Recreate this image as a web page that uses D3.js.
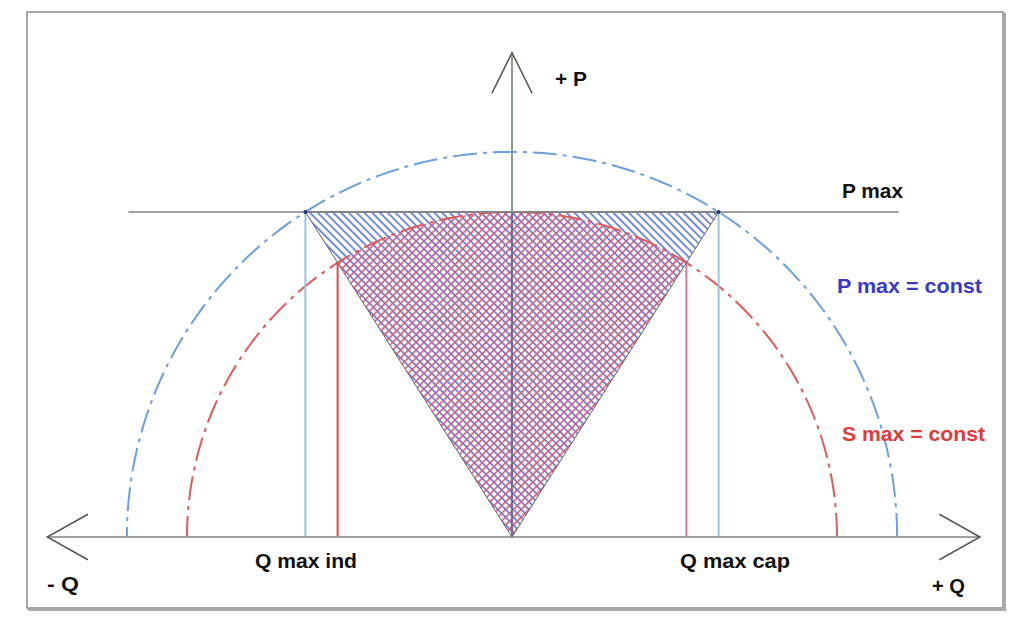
<!DOCTYPE html>
<html lang="en">

<head>
    <meta charset="UTF-8">
    <title>PQ capability diagram</title>
    <script src="https://d3js.org/d3.v7.min.js"></script>
    <style>
        body {
            margin: 0;
            background: #fff;
        }

        text {
            font-family: "Liberation Sans", Arial, sans-serif;
            font-weight: bold;
            font-size: 21px;
        }
    </style>
</head>

<body>
    <script>
        // values in per-unit of S max
        const circleNames = ["S max", "P max"];
        const circleRadii = [1.0, 1.185];
        const pMaxLevel = [1.0];
        const qAxisRange = [-1.43, 1.44];
        const pAxisRange = [0, 1.49];
        const pMaxLineRange = [-1.18, 1.19];

        const width = 1024;
        const height = 624;
        const unit = 325; // px per p.u.
        const cx = 512, cy = 537;

        const x = d3.scaleLinear().domain([0, 1]).range([cx, cx + unit]);
        const y = d3.scaleLinear().domain([0, 1]).range([cy, cy - unit]);

        const svg = d3.select("body")
            .append("svg")
            .attr("width", width)
            .attr("height", height);

        const defs = svg.append("defs");

        function hatch(id, angle, color, gap) {
            const p = defs.append("pattern")
                .attr("id", id)
                .attr("patternUnits", "userSpaceOnUse")
                .attr("width", gap)
                .attr("height", gap)
                .attr("patternTransform", `rotate(${angle})`);
            p.append("line")
                .attr("x1", gap / 2).attr("y1", 0)
                .attr("x2", gap / 2).attr("y2", gap)
                .attr("stroke", color)
                .attr("stroke-width", 1.6);
        }
        hatch("blueHatch", -45, "#5577dd", 5.5);
        hatch("redHatch", 45, "#e05577", 5.5);

        const rS = circleRadii[0], rP = circleRadii[1], pm = pMaxLevel[0];
        // triangle corners where P max line meets the P max circle
        const qc = Math.sqrt(rP * rP - pm * pm);
        // triangle edges meet the S max circle
        const k = rS / Math.sqrt(qc * qc + pm * pm);
        const qs = qc * k, ps = pm * k;

        defs.append("clipPath").attr("id", "sClip")
            .append("circle")
            .attr("cx", x(0)).attr("cy", y(0))
            .attr("r", x(rS) - x(0));

        // frame with shadow
        svg.append("rect")
            .attr("x", 29).attr("y", 14).attr("width", 976).attr("height", 596)
            .attr("fill", "none").attr("stroke", "#aaa").attr("stroke-width", 2);
        svg.append("rect")
            .attr("x", 27).attr("y", 12).attr("width", 976).attr("height", 596)
            .attr("fill", "#fff").attr("stroke", "#8a8a8a").attr("stroke-width", 1.5);

        const tri = [[-qc, pm], [qc, pm], [0, 0]];
        const triPath = d3.line().x(d => x(d[0])).y(d => y(d[1]))(tri) + "Z";

        svg.append("path").attr("d", triPath).attr("fill", "url(#blueHatch)");
        svg.append("path").attr("d", triPath).attr("fill", "url(#redHatch)")
            .attr("clip-path", "url(#sClip)");

        // dashed circles (upper half)
        const arcColors = ["#e05a5a", "#6a9fe0"];
        circleRadii.forEach((r, i) => {
            const pts = d3.range(0, 181, 1).map(a => [r * Math.cos(a * Math.PI / 180), r * Math.sin(a * Math.PI / 180)]);
            svg.append("path")
                .attr("d", d3.line().x(d => x(d[0])).y(d => y(d[1]))(pts))
                .attr("fill", "none")
                .attr("stroke", arcColors[i])
                .attr("stroke-width", 2)
                .attr("stroke-dasharray", "24,6,4,6");
        });

        // vertical limit lines
        const vLines = [
            { q: -qc, p: pm, c: "#9cc3ea" },
            { q: qc, p: pm, c: "#9cc3ea" },
            { q: -qs, p: ps, c: "#e04848" },
            { q: qs, p: ps, c: "#d9789a" }
        ];
        svg.selectAll(".vline").data(vLines).join("line")
            .attr("class", "vline")
            .attr("x1", d => x(d.q)).attr("x2", d => x(d.q))
            .attr("y1", d => y(d.p)).attr("y2", y(0))
            .attr("stroke", d => d.c).attr("stroke-width", 2);

        // P max line
        svg.append("line")
            .attr("x1", x(pMaxLineRange[0])).attr("x2", x(pMaxLineRange[1]))
            .attr("y1", y(pm)).attr("y2", y(pm))
            .attr("stroke", "#a0a0a0").attr("stroke-width", 2);

        // triangle outline
        svg.append("path").attr("d", triPath)
            .attr("fill", "none").attr("stroke", "#666").attr("stroke-width", 1);

        // axes
        svg.append("line")
            .attr("x1", x(qAxisRange[0])).attr("x2", x(qAxisRange[1]))
            .attr("y1", y(0)).attr("y2", y(0))
            .attr("stroke", "#a0a0a0").attr("stroke-width", 2);
        svg.append("line")
            .attr("x1", x(0)).attr("x2", x(0))
            .attr("y1", y(0)).attr("y2", y(pAxisRange[1]))
            .attr("stroke", "#8c9c8c").attr("stroke-width", 2);
        svg.append("line")
            .attr("x1", x(0)).attr("x2", x(0))
            .attr("y1", y(0)).attr("y2", y(pm))
            .attr("stroke", "#6a5a9a").attr("stroke-width", 1.5);

        // arrow heads
        const a = 0.125;
        const heads = [
            [[qAxisRange[0] + a, 0.07], [qAxisRange[0], 0], [qAxisRange[0] + a, -0.07]],
            [[qAxisRange[1] - a, 0.07], [qAxisRange[1], 0], [qAxisRange[1] - a, -0.07]],
            [[-0.062, pAxisRange[1] - a], [0, pAxisRange[1]], [0.062, pAxisRange[1] - a]]
        ];
        svg.selectAll(".head").data(heads).join("path")
            .attr("class", "head")
            .attr("d", d => d3.line().x(p => x(p[0])).y(p => y(p[1]))(d))
            .attr("fill", "none").attr("stroke", "#555").attr("stroke-width", 1.5);

        // corner dots
        svg.selectAll(".dot").data([[-qc, pm], [qc, pm]]).join("circle")
            .attr("class", "dot")
            .attr("cx", d => x(d[0])).attr("cy", d => y(d[1]))
            .attr("r", 2).attr("fill", "#223388");

        // labels
        const labels = [
            { t: "+ P", x: 555, y: 86, w: 32, c: "#111" },
            { t: "P max", x: 842, y: 198, w: 61, c: "#111" },
            { t: "P max = const", x: 837, y: 293, w: 145, c: "#3a3ac8" },
            { t: "S max = const", x: 842, y: 441, w: 143, c: "#e23a3a" },
            { t: "Q max ind", x: 255, y: 568, w: 102, c: "#111" },
            { t: "Q max  cap", x: 680, y: 568, w: 110, c: "#111" },
            { t: "- Q", x: 47, y: 591, w: 32, c: "#111" },
            { t: "+ Q", x: 932, y: 593, w: 33, c: "#111" }
        ];
        svg.selectAll(".lbl").data(labels).join("text")
            .attr("class", "lbl")
            .attr("x", d => d.x).attr("y", d => d.y)
            .attr("fill", d => d.c)
            .attr("textLength", d => d.w)
            .attr("lengthAdjust", "spacingAndGlyphs")
            .text(d => d.t);
    </script>
</body>

</html>
